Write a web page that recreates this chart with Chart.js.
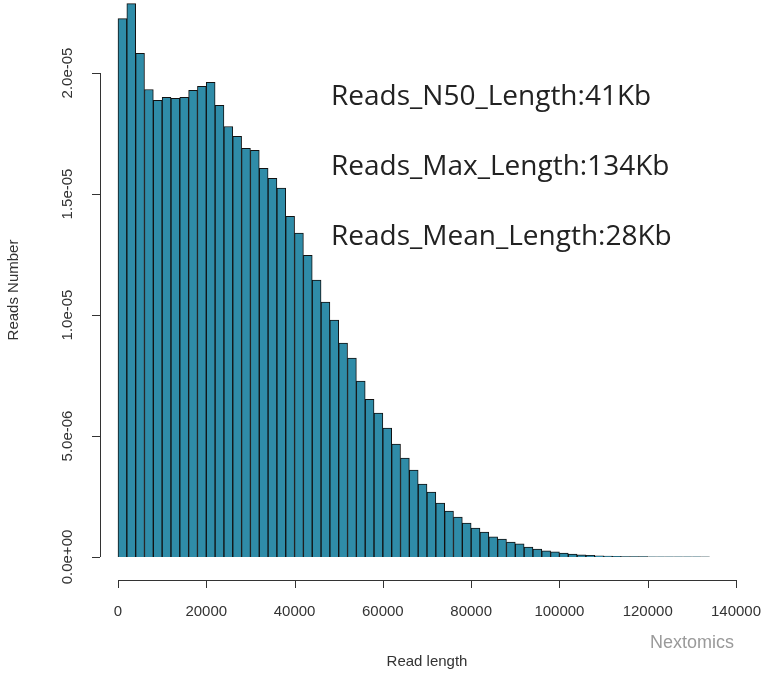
<!DOCTYPE html>
<html><head><meta charset="utf-8">
<script src="https://cdn.jsdelivr.net/npm/chart.js@4"></script>
<style>html,body{margin:0;padding:0;background:#fff;overflow:hidden}canvas{display:block}</style>
</head><body><canvas id="c" width="768" height="674" style="width:768px;height:674px"></canvas>
<script>
const binWidth = 2000;
const values = [2.225,2.287,2.081,1.932,1.887,1.899,1.895,1.899,1.928,1.945,1.961,1.866,1.779,1.738,1.689,1.680,1.606,1.565,1.524,1.408,1.338,1.247,1.144,1.053,0.979,0.884,0.822,0.727,0.652,0.595,0.533,0.467,0.409,0.359,0.301,0.268,0.223,0.190,0.165,0.140,0.120,0.103,0.083,0.074,0.062,0.054,0.041,0.033,0.025,0.021,0.016,0.012,0.009,0.007,0.005,0.004,0.003,0.002,0.002,0.0015,0.001,0.001,0.0008,0.0006,0.0005,0.0004,0.0003];
const xTicks = [0,20000,40000,60000,80000,100000,120000,140000];
const yTicks = [0,0.5e-5,1.0e-5,1.5e-5,2.0e-5];
const yTickLabels = ["0.0e+00","5.0e-06","1.0e-05","1.5e-05","2.0e-05"];
const notes = ["Reads_N50_Length:41Kb","Reads_Max_Length:134Kb","Reads_Mean_Length:28Kb"];

const data = values.map((v,i)=>({x:i*binWidth+binWidth/2, y:v*1e-5}));
const axes = {
  id:'axes',
  afterDraw(ch){
    const c=ch.ctx, xs=ch.scales.x, ys=ch.scales.y;
    c.save(); c.strokeStyle='#333'; c.fillStyle='#333'; c.lineWidth=1;
    const ya=580;
    c.beginPath(); c.moveTo(xs.getPixelForValue(0),ya+.5); c.lineTo(xs.getPixelForValue(140000),ya+.5);
    xTicks.forEach(t=>{const p=Math.round(xs.getPixelForValue(t))+.5;c.moveTo(p,ya);c.lineTo(p,ya+8);});
    c.stroke();
    c.font='15px "Liberation Sans", Arial'; c.textAlign='center'; c.textBaseline='top';
    xTicks.forEach(t=>c.fillText(String(t),xs.getPixelForValue(t),604));
    const xa=100;
    c.beginPath(); c.moveTo(xa+.5,ys.getPixelForValue(0)); c.lineTo(xa+.5,ys.getPixelForValue(2e-5));
    yTicks.forEach(t=>{const p=Math.round(ys.getPixelForValue(t))+.5;c.moveTo(xa,p);c.lineTo(xa-8,p);});
    c.stroke();
    yTicks.forEach((t,i)=>{c.save();c.translate(68,ys.getPixelForValue(t));c.rotate(-Math.PI/2);c.textAlign='center';c.textBaseline='middle';c.fillText(yTickLabels[i],0,0);c.restore();});
    c.save();c.translate(14,290);c.rotate(-Math.PI/2);c.textAlign='center';c.textBaseline='middle';c.fillText('Reads Number',0,0);c.restore();
    c.textAlign='center';c.textBaseline='middle';c.fillText('Read length',427,662);
    c.fillStyle='#222'; c.font='28px "Open Sans", "Noto Sans", sans-serif'; c.textAlign='left'; c.textBaseline='middle';
    notes.forEach((n,i)=>c.fillText(n,331,97+i*70));
    c.fillStyle='#9a9a9a'; c.font='18px "Liberation Sans", Arial'; c.fillText('Nextomics',650,643);
    c.restore();
  }
};
new Chart(document.getElementById('c'),{
  type:'bar',
  data:{datasets:[{data, backgroundColor:'#2f8ca8', borderColor:'#111', borderWidth:1, barPercentage:1, categoryPercentage:1, grouped:false}]},
  options:{responsive:false, devicePixelRatio:1, animation:false,
    layout:{padding:{left:100,right:18,top:0,bottom:84}},
    plugins:{legend:{display:false},tooltip:{enabled:false}},
    scales:{
      x:{type:'linear',display:false,offset:false,min:-140000*18/618,max:140000+140000*14/618},
      y:{display:false,min:-33/242*1e-5,max:(590/242-33/242)*1e-5}
    }},
  plugins:[axes]
});
</script></body></html>
